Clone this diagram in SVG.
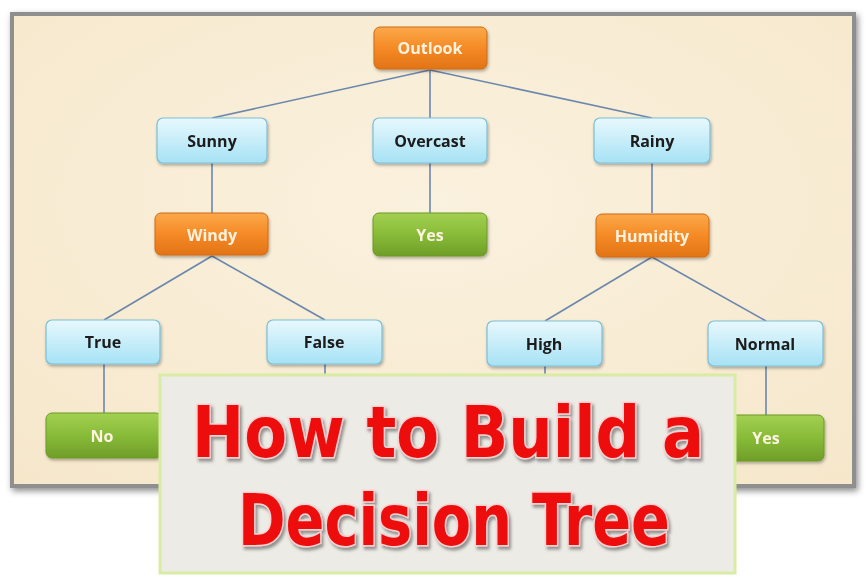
<svg xmlns="http://www.w3.org/2000/svg" width="868" height="583" viewBox="0 0 868 583">
<defs>
<linearGradient id="gBlue" x1="0" y1="0" x2="0" y2="1"><stop offset="0" stop-color="#e8f8fd"/><stop offset="1" stop-color="#a6e2f5"/></linearGradient>
<linearGradient id="gOrange" x1="0" y1="0" x2="0" y2="1"><stop offset="0" stop-color="#fba94a"/><stop offset="0.5" stop-color="#f58a26"/><stop offset="1" stop-color="#e27416"/></linearGradient>
<linearGradient id="gGreen" x1="0" y1="0" x2="0" y2="1"><stop offset="0" stop-color="#a3d051"/><stop offset="0.5" stop-color="#88bb38"/><stop offset="1" stop-color="#6f9e28"/></linearGradient>
<radialGradient id="gBg" cx="0.5" cy="0.4" r="0.8"><stop offset="0" stop-color="#faf1de"/><stop offset="1" stop-color="#f6e7ca"/></radialGradient>
<filter id="sh" x="-10%" y="-10%" width="130%" height="140%"><feDropShadow dx="1" dy="2" stdDeviation="1.5" flood-color="#000" flood-opacity="0.3"/></filter>
<filter id="panelSh" x="-5%" y="-5%" width="110%" height="110%"><feDropShadow dx="2" dy="3" stdDeviation="3" flood-color="#000" flood-opacity="0.45"/></filter>
<filter id="tsh" x="-3%" y="-10%" width="106%" height="130%"><feDropShadow dx="2" dy="3" stdDeviation="1.5" flood-color="#555" flood-opacity="0.6"/></filter>
<style>
.blue{fill:url(#gBlue);stroke:#7cbfd6;stroke-width:1.2}
.orange{fill:url(#gOrange);stroke:#d06a12;stroke-width:1}
.green{fill:url(#gGreen);stroke:#6c9a26;stroke-width:1}
.lbl{font-family:"Open Sans","Liberation Sans",sans-serif;font-weight:bold;font-size:16px;text-anchor:middle}
.dark{fill:#1a1a1a}
.light{fill:#fdf3e0}
.conn line{stroke:#6b87ad;stroke-width:1.6}
.title{font-family:"DejaVu Sans Condensed","DejaVu Sans","Liberation Sans",sans-serif;font-weight:bold;font-size:71px;fill:#ee1111;stroke:#f6d2d2;stroke-width:3;paint-order:stroke;text-anchor:middle}
</style>
</defs>
<rect width="868" height="583" fill="#ffffff"/>
<rect x="12" y="14" width="842" height="472" fill="url(#gBg)" stroke="#8f8f8f" stroke-width="4" filter="url(#panelSh)"/>
<g id="connectors" class="conn">
<line x1="430" y1="70" x2="212" y2="118"/>
<line x1="430" y1="70" x2="430" y2="118"/>
<line x1="430" y1="70" x2="652" y2="118"/>
<line x1="212" y1="163" x2="212" y2="213"/>
<line x1="430" y1="163" x2="430" y2="213"/>
<line x1="652" y1="163" x2="652" y2="213"/>
<line x1="212" y1="256" x2="104" y2="320"/>
<line x1="212" y1="256" x2="325" y2="320"/>
<line x1="652" y1="257" x2="545" y2="321"/>
<line x1="652" y1="257" x2="766" y2="321"/>
<line x1="104" y1="364" x2="104" y2="413"/>
<line x1="325" y1="364" x2="325" y2="414"/>
<line x1="545" y1="366" x2="545" y2="415"/>
<line x1="766" y1="366" x2="766" y2="415"/>
</g>
<g id="outlook" filter="url(#sh)"><rect class="orange" x="374" y="27" width="113" height="42" rx="6"/><text class="lbl light" x="430" y="54">Outlook</text></g>
<g id="sunny" filter="url(#sh)"><rect class="blue" x="157" y="118" width="110" height="45" rx="6"/><text class="lbl dark" x="212" y="147">Sunny</text></g>
<g id="overcast" filter="url(#sh)"><rect class="blue" x="373" y="118" width="114" height="45" rx="6"/><text class="lbl dark" x="430" y="147">Overcast</text></g>
<g id="rainy" filter="url(#sh)"><rect class="blue" x="594" y="118" width="116" height="45" rx="6"/><text class="lbl dark" x="652" y="147">Rainy</text></g>
<g id="windy" filter="url(#sh)"><rect class="orange" x="155" y="213" width="113" height="42" rx="6"/><text class="lbl light" x="212" y="241">Windy</text></g>
<g id="yes1" filter="url(#sh)"><rect class="green" x="373" y="213" width="114" height="43" rx="6"/><text class="lbl light" x="430" y="241">Yes</text></g>
<g id="humidity" filter="url(#sh)"><rect class="orange" x="596" y="214" width="113" height="43" rx="6"/><text class="lbl light" x="652" y="242">Humidity</text></g>
<g id="true" filter="url(#sh)"><rect class="blue" x="46" y="320" width="114" height="44" rx="6"/><text class="lbl dark" x="103" y="348">True</text></g>
<g id="false" filter="url(#sh)"><rect class="blue" x="267" y="320" width="115" height="44" rx="6"/><text class="lbl dark" x="324" y="348">False</text></g>
<g id="high" filter="url(#sh)"><rect class="blue" x="487" y="321" width="115" height="45" rx="6"/><text class="lbl dark" x="544" y="350">High</text></g>
<g id="normal" filter="url(#sh)"><rect class="blue" x="708" y="321" width="115" height="45" rx="6"/><text class="lbl dark" x="765" y="350">Normal</text></g>
<g id="no" filter="url(#sh)"><rect class="green" x="46" y="413" width="116" height="45" rx="6"/><text class="lbl light" x="102" y="442">No</text></g>
<g id="no2" filter="url(#sh)"><rect class="green" x="268" y="414" width="115" height="45" rx="6"/></g>
<g id="yes3" filter="url(#sh)"><rect class="green" x="488" y="415" width="115" height="45" rx="6"/></g>
<g id="yes2" filter="url(#sh)"><rect class="green" x="708" y="415" width="116" height="46" rx="6"/><text class="lbl light" x="766" y="444">Yes</text></g>
<g id="title-box">
<rect x="160" y="375" width="575" height="198" fill="#ecebe5" stroke="#d8eca6" stroke-width="3"/>
<text class="title" x="448" y="457" textLength="512" lengthAdjust="spacingAndGlyphs" filter="url(#tsh)">How to Build a</text>
<text class="title" x="454" y="545" textLength="432" lengthAdjust="spacingAndGlyphs" filter="url(#tsh)">Decision Tree</text>
</g>
</svg>
